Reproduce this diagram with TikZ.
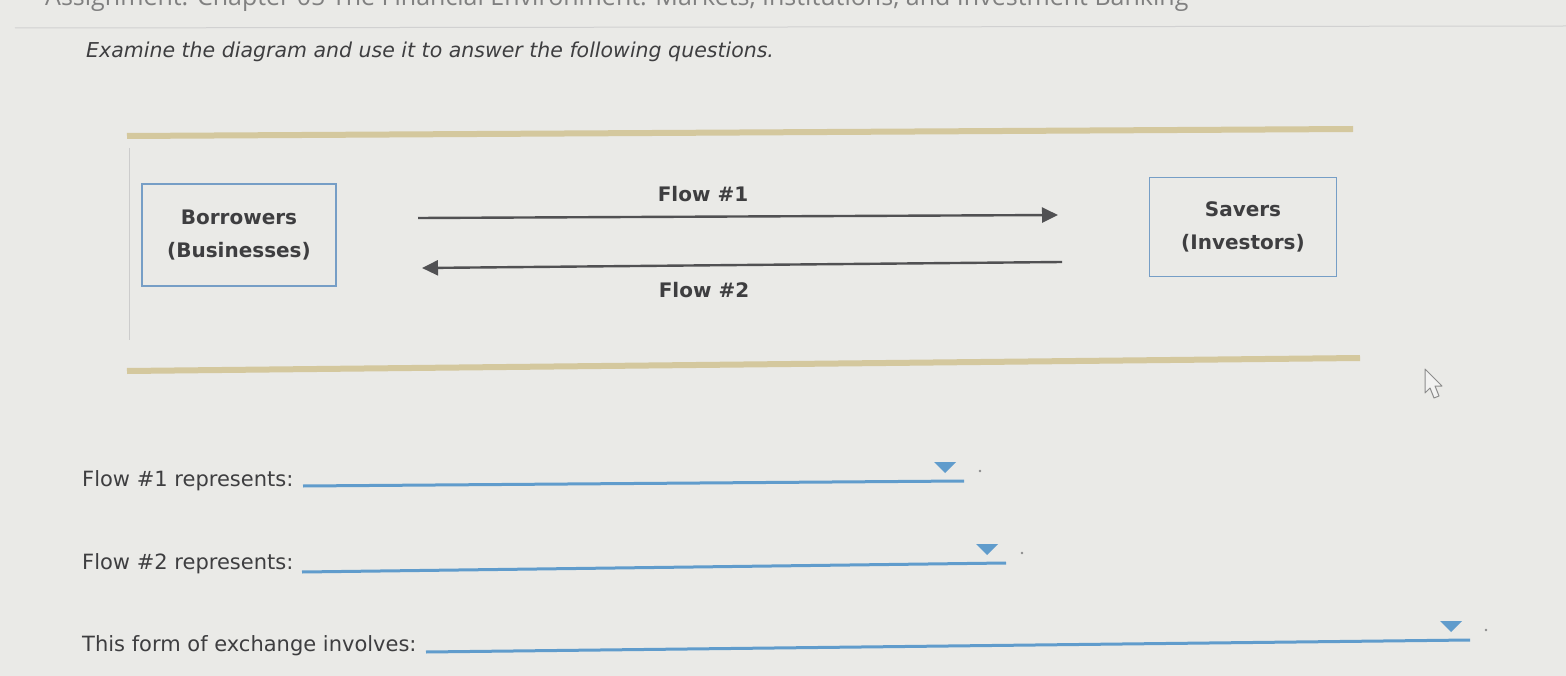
\documentclass[tikz,border=0pt]{standalone}
\usepackage{fontspec}
\setmainfont{DejaVu Sans}
\newfontfamily\headfont{Open Sans}
\usetikzlibrary{arrows.meta}
\definecolor{pagebg}{RGB}{234,234,231}
\definecolor{rulebrown}{RGB}{212,200,158}
\definecolor{boxblue}{RGB}{118,158,198}
\definecolor{inkgrey}{RGB}{62,62,64}
\definecolor{dropblue}{RGB}{96,156,204}
\begin{document}
\begin{tikzpicture}[x=1pt,y=-1pt,
    party/.style={draw=boxblue,line width=1.5pt,align=center,inner sep=0pt,
      font=\fontsize{20}{33}\selectfont\bfseries,text=inkgrey},
    flowlbl/.style={font=\fontsize{20}{24}\selectfont\bfseries,text=inkgrey},
    flowarr/.style={draw=inkgrey!90,line width=2.4pt,-{Triangle[length=16pt,width=15pt]}},
    qtext/.style={font=\fontsize{21}{24}\selectfont,text=inkgrey,anchor=base west,inner sep=0pt},
    answer/.style={draw=dropblue,line width=3pt},
    tanrule/.style={draw=rulebrown,line width=6pt}]
  \useasboundingbox (0,0) rectangle (1566,676);
  \clip (0,0) rectangle (1566,676);
  \fill[pagebg] (0,0) rectangle (1566,676);
  % page heading, cut off by the top edge
  \node[anchor=base west,inner sep=0pt,text=black!50,font=\headfont\fontsize{25}{28}\selectfont] (title) at (45,6)
    {Assignment: Chapter 05 The Financial Environment: Markets, Institutions, and Investment Banking};
  \draw[black!18,line width=1pt] (15,28) -- (1566,26);
  \node[anchor=base west,inner sep=0pt,text=inkgrey,font=\fontsize{20.5}{24}\selectfont\itshape] (intro) at (86,58)
    {Examine the diagram and use it to answer the following questions.};
  % diagram frame
  \draw[tanrule] (127,136) -- (1353,129);
  \draw[tanrule] (127,371) -- (1360,358);
  \draw[black!20,line width=1pt] (129,148) -- (129,340);
  \node[party,minimum width=194,minimum height=102] (borrowers) at (239,235) {Borrowers\\(Businesses)};
  \node[party,minimum width=187,minimum height=99] (savers) at (1243,227) {Savers\\(Investors)};
  \coordinate (f1s) at (418,218);
  \coordinate (f1e) at (1058,215);
  \coordinate (f2s) at (1062,262);
  \coordinate (f2e) at (422,268);
  \draw[flowarr] (f1s) -- (f1e);
  \draw[flowarr] (f2s) -- (f2e);
  \node[flowlbl] (flowone) at (703,194) {Flow \#1};
  \node[flowlbl] (flowtwo) at (704,290) {Flow \#2};
  % questions with drop-down answers
  \foreach \n/\txt/\ty/\lx/\ly/\rx/\ry in {%
      1/{Flow \#1 represents:}/486/303/486/964/481,
      2/{Flow \#2 represents:}/569/302/572/1006/563,
      3/{This form of exchange involves:}/651/426/652/1470/640}{
    \node[qtext] (q\n) at (82,\ty) {\txt};
    \coordinate (l\n) at (\lx,\ly);
    \coordinate (r\n) at (\rx,\ry);
    \draw[answer] (l\n) -- (r\n);
    \fill[dropblue] (\rx-30,\ry-19) -- ++(22,0) -- ++(-11,11) -- cycle;
    \fill[black!45] (\rx+16,\ry-10) circle (1.3);
  }
  % mouse pointer
  \draw[black!45,line width=1pt,line join=round,fill=pagebg!60!white]
    (1425,369) -- (1425,393) -- (1430,388) -- (1434,398) -- (1439,396) -- (1435,386) -- (1442,386) -- cycle;
\end{tikzpicture}
\end{document}
